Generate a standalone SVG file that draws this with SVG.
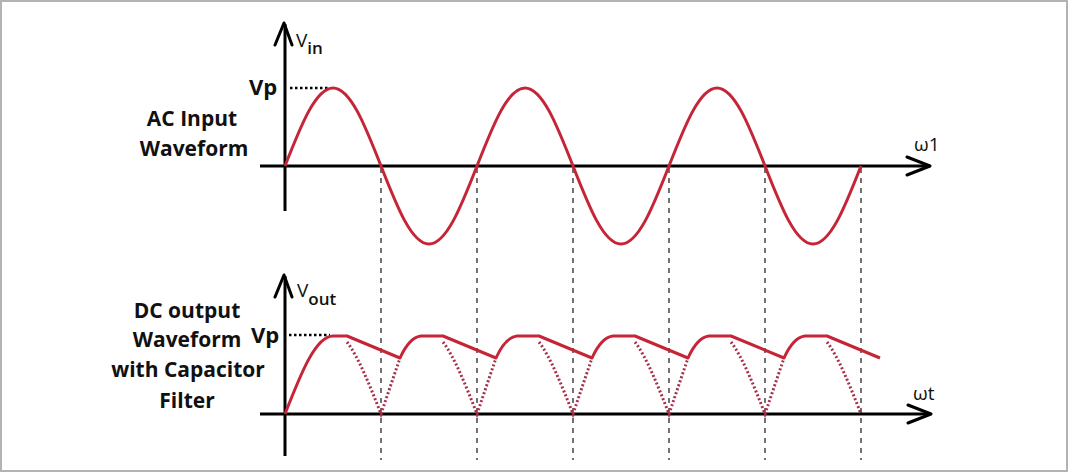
<svg xmlns="http://www.w3.org/2000/svg" width="1068" height="472" viewBox="0 0 1068 472">
<style>
.lbl{font-family:"Open Sans","Liberation Sans",sans-serif;font-weight:bold;font-size:21px;fill:#111;text-anchor:middle}
.vp{font-family:"Open Sans","Liberation Sans",sans-serif;font-weight:bold;font-size:22px;fill:#111}
.ax{font-family:"Open Sans","Liberation Sans",sans-serif;font-size:19px;fill:#111}
.sub{font-size:17px;font-weight:600}
.axis{stroke:#000;stroke-width:3;fill:none}
.arrow{stroke:#000;stroke-width:3;fill:none;stroke-linecap:round;stroke-linejoin:round}
.wave{stroke:#c42638;stroke-width:3;fill:none;stroke-linejoin:round}
.dotw{stroke:#a8304a;stroke-width:3;fill:none;stroke-dasharray:2 2.2}
.vpl{stroke:#000;stroke-width:2.5;fill:none;stroke-dasharray:2.5 2.5}
.grid{stroke:#444;stroke-width:1.5;fill:none;stroke-dasharray:5 5}
</style>
<rect x="1" y="1" width="1066" height="470" fill="#fff" stroke="#b3b3b3" stroke-width="2"/>
<g id="guides">
<path class="grid" d="M381,168V460M477,168V460M573,168V460M669,168V460M765,168V460M861,168V460"/>
</g>
<g id="top-plot">
<path class="axis" d="M285,24V211M260,166H930"/>
<path class="arrow" d="M275,45L284,23L292,45M907,157L930,166L907,175"/>
<path class="vpl" d="M290,88H330"/>
<path class="wave" d="M285,166c16.05,-40.96 30.7,-78 48,-78c17.3,0 31.95,37.04 48,78c16.05,40.96 30.7,78 48,78c17.3,0 31.95,-37.04 48,-78c16.05,-40.96 30.7,-78 48,-78c17.3,0 31.95,37.04 48,78c16.05,40.96 30.7,78 48,78c17.3,0 31.95,-37.04 48,-78c16.05,-40.96 30.7,-78 48,-78c17.3,0 31.95,37.04 48,78c16.05,40.96 30.7,78 48,78c17.3,0 31.95,-37.04 48,-78"/>
<text class="vp" x="249" y="95">Vp</text>
<text class="ax" x="296" y="47">V<tspan class="sub" dy="7">in</tspan></text>
<text class="ax" x="914" y="151">ω1</text>
<text class="lbl" x="192" y="126">AC Input</text>
<text class="lbl" x="194" y="156">Waveform</text>
</g>
<g id="bottom-plot">
<path class="axis" d="M285,276V456M260,414H930"/>
<path class="arrow" d="M275,297L284,275L292,297M908,405L931,414L908,423"/>
<path class="vpl" d="M289,335H330"/>
<path class="dotw" d="M347,342C358.3,356.8 369.7,385.1 381,414L400,358M443,342C454.3,356.8 465.7,385.1 477,414L496,358M539,342C550.3,356.8 561.7,385.1 573,414L592,358M635,342C646.3,356.8 657.7,385.1 669,414L688,358M731,342C742.3,356.8 753.7,385.1 765,414L784,358M827,342C838.3,356.8 849.7,385.1 861,414"/>
<path class="wave" d="M285,414c16.05,-40.96 30.7,-78 48,-78L347,336L400,358C405,347 412,337 421,336L443,336L496,358C501,347 508,337 517,336L539,336L592,358C597,347 604,337 613,336L635,336L688,358C693,347 700,337 709,336L731,336L784,358C789,347 796,337 805,336L827,336L880,358"/>
<text class="vp" x="251" y="343">Vp</text>
<text class="ax" x="297" y="297">V<tspan class="sub" dy="8">out</tspan></text>
<text class="ax" x="913" y="400">ωt</text>
<text class="lbl" x="187" y="318">DC output</text>
<text class="lbl" x="187" y="347">Waveform</text>
<text class="lbl" x="188" y="377">with Capacitor</text>
<text class="lbl" x="187" y="408">Filter</text>
</g>
</svg>
